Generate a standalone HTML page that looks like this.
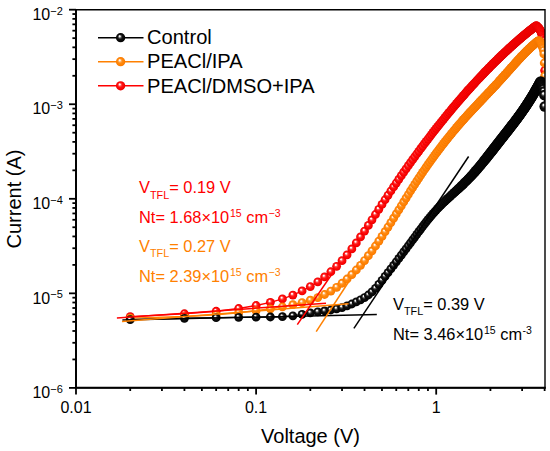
<!DOCTYPE html>
<html><head><meta charset="utf-8"><style>
html,body{margin:0;padding:0;background:#fff;}
body{width:550px;height:451px;overflow:hidden;font-family:"Liberation Sans",sans-serif;}
svg{display:block;}
</style></head><body>
<svg width="550" height="451" viewBox="0 0 550 451" style='font-family:"Liberation Sans",sans-serif'>
<defs>
<radialGradient id="gk" cx="0.5" cy="0.5" r="0.5" fx="0.38" fy="0.32">
 <stop offset="0" stop-color="#ffffff"/><stop offset="0.15" stop-color="#eeeeee"/><stop offset="0.3" stop-color="#606060"/><stop offset="0.52" stop-color="#111111"/><stop offset="1" stop-color="#000"/>
</radialGradient>
<radialGradient id="go" cx="0.5" cy="0.5" r="0.5" fx="0.38" fy="0.32">
 <stop offset="0" stop-color="#ffffff"/><stop offset="0.15" stop-color="#fff2e4"/><stop offset="0.3" stop-color="#ffae5a"/><stop offset="0.52" stop-color="#ff8a12"/><stop offset="0.85" stop-color="#ff8000"/><stop offset="1" stop-color="#f27400"/>
</radialGradient>
<radialGradient id="gr" cx="0.5" cy="0.5" r="0.5" fx="0.38" fy="0.32">
 <stop offset="0" stop-color="#ffffff"/><stop offset="0.15" stop-color="#ffeeee"/><stop offset="0.3" stop-color="#ff5a5a"/><stop offset="0.52" stop-color="#ff1212"/><stop offset="0.85" stop-color="#f80000"/><stop offset="1" stop-color="#e00000"/>
</radialGradient>
<clipPath id="clip"><rect x="76" y="9.7" width="469" height="378.1"/></clipPath>
</defs>
<rect width="550" height="451" fill="#fff"/>
<g clip-path="url(#clip)">
<path d="M130.22,316.59 L184.43,313.75 L216.15,311.27 L238.65,308.49 L256.10,305.51 L270.36,302.35 L282.42,298.88 L292.86,295.08 L302.07,290.96 L310.32,286.57 L317.77,281.89 L324.58,276.94 L330.84,271.74 L336.63,266.32 L342.03,260.68 L347.08,254.87 L351.82,248.92 L356.29,242.92 L360.52,236.96 L364.53,231.10 L368.35,225.39 L371.99,219.85 L375.46,214.50 L378.79,209.36 L381.98,204.45 L385.05,199.75 L388.00,195.27 L390.85,191.00 L393.59,186.92 L396.25,183.02 L398.81,179.27 L401.29,175.68 L403.70,172.23 L406.03,168.91 L408.30,165.71 L410.51,162.62 L412.65,159.65 L414.73,156.77 L416.77,153.99 L418.75,151.30 L420.68,148.69 L422.56,146.17 L424.40,143.72 L426.20,141.34 L427.96,139.03 L429.68,136.79 L431.36,134.60 L433.01,132.48 L434.62,130.42 L436.20,128.40 L437.75,126.44 L439.27,124.53 L440.76,122.66 L442.22,120.84 L443.65,119.06 L445.06,117.33 L446.45,115.63 L447.81,113.97 L449.15,112.35 L450.46,110.77 L451.75,109.21 L453.03,107.69 L454.28,106.21 L455.51,104.75 L456.72,103.32 L457.92,101.93 L459.09,100.55 L460.25,99.21 L461.39,97.89 L462.52,96.60 L463.63,95.33 L464.72,94.08 L465.80,92.86 L466.86,91.66 L467.91,90.48 L468.95,89.32 L469.97,88.19 L470.98,87.07 L471.98,85.97 L472.96,84.89 L473.93,83.82 L474.89,82.78 L475.84,81.75 L476.78,80.74 L477.70,79.74 L478.62,78.76 L479.52,77.80 L480.42,76.85 L481.30,75.91 L482.17,74.99 L483.04,74.09 L483.89,73.19 L484.74,72.31 L485.58,71.44 L486.40,70.59 L487.22,69.75 L488.03,68.92 L488.84,68.10 L489.63,67.29 L490.42,66.49 L491.19,65.71 L491.96,64.93 L492.73,64.17 L493.48,63.41 L494.23,62.67 L494.97,61.94 L495.71,61.21 L496.44,60.49 L497.16,59.79 L497.87,59.09 L498.58,58.40 L499.28,57.72 L499.97,57.05 L500.66,56.39 L501.35,55.73 L502.02,55.09 L502.70,54.45 L503.36,53.82 L504.02,53.19 L504.68,52.58 L505.33,51.97 L505.97,51.36 L506.61,50.77 L507.24,50.18 L507.87,49.60 L508.49,49.02 L509.11,48.46 L509.72,47.89 L510.33,47.34 L510.94,46.79 L511.54,46.24 L512.13,45.71 L512.72,45.17 L513.31,44.65 L513.89,44.13 L514.47,43.61 L515.04,43.10 L515.61,42.60 L516.17,42.10 L516.73,41.60 L517.29,41.11 L517.84,40.63 L518.39,40.15 L518.94,39.68 L519.48,39.21 L520.02,38.74 L520.55,38.29 L521.08,37.83 L521.61,37.38 L522.13,36.94 L522.65,36.50 L523.17,36.06 L523.68,35.63 L524.19,35.20 L524.69,34.78 L525.20,34.36 L525.70,33.95 L526.19,33.54 L526.69,33.14 L527.18,32.74 L527.66,32.35 L528.15,31.96 L528.63,31.57 L529.11,31.19 L529.58,30.81 L530.06,30.44 L530.53,30.07 L530.99,29.71 L531.46,29.35 L531.92,28.99 L532.38,28.64 L532.83,28.29 L533.29,27.95 L533.74,27.61 L534.19,27.27 L534.63,26.94 L535.08,26.61 L535.52,26.29 L535.95,25.97 L536.39,25.66 L536.82,26.17 L537.25,26.69 L537.68,27.20 L538.11,27.53 L538.53,27.87 L538.95,28.20 L539.37,28.85 L539.79,29.50 L540.21,30.25 L540.62,31.00 L541.03,32.00 L541.44,33.00 L541.84,34.25 L542.25,35.50 L542.65,37.00 L543.05,38.50 L543.45,40.50 L543.84,43.50 L544.24,50.00 L544.63,70.50" fill="none" stroke="#f00" stroke-width="1.4"/>
<circle cx="130.22" cy="316.59" r="4.4" fill="url(#gr)"/><circle cx="184.43" cy="313.75" r="4.4" fill="url(#gr)"/><circle cx="216.15" cy="311.27" r="4.4" fill="url(#gr)"/><circle cx="238.65" cy="308.49" r="4.4" fill="url(#gr)"/><circle cx="256.10" cy="305.51" r="4.4" fill="url(#gr)"/><circle cx="270.36" cy="302.35" r="4.4" fill="url(#gr)"/><circle cx="282.42" cy="298.88" r="4.4" fill="url(#gr)"/><circle cx="292.86" cy="295.08" r="4.4" fill="url(#gr)"/><circle cx="302.07" cy="290.96" r="4.4" fill="url(#gr)"/><circle cx="310.32" cy="286.57" r="4.4" fill="url(#gr)"/><circle cx="317.77" cy="281.89" r="4.4" fill="url(#gr)"/><circle cx="324.58" cy="276.94" r="4.4" fill="url(#gr)"/><circle cx="330.84" cy="271.74" r="4.4" fill="url(#gr)"/><circle cx="336.63" cy="266.32" r="4.4" fill="url(#gr)"/><circle cx="342.03" cy="260.68" r="4.4" fill="url(#gr)"/><circle cx="347.08" cy="254.87" r="4.4" fill="url(#gr)"/><circle cx="351.82" cy="248.92" r="4.4" fill="url(#gr)"/><circle cx="356.29" cy="242.92" r="4.4" fill="url(#gr)"/><circle cx="360.52" cy="236.96" r="4.4" fill="url(#gr)"/><circle cx="364.53" cy="231.10" r="4.4" fill="url(#gr)"/><circle cx="368.35" cy="225.39" r="4.4" fill="url(#gr)"/><circle cx="371.99" cy="219.85" r="4.4" fill="url(#gr)"/><circle cx="375.46" cy="214.50" r="4.4" fill="url(#gr)"/><circle cx="378.79" cy="209.36" r="4.4" fill="url(#gr)"/><circle cx="381.98" cy="204.45" r="4.4" fill="url(#gr)"/><circle cx="385.05" cy="199.75" r="4.4" fill="url(#gr)"/><circle cx="388.00" cy="195.27" r="4.4" fill="url(#gr)"/><circle cx="390.85" cy="191.00" r="4.4" fill="url(#gr)"/><circle cx="393.59" cy="186.92" r="4.4" fill="url(#gr)"/><circle cx="396.25" cy="183.02" r="4.4" fill="url(#gr)"/><circle cx="398.81" cy="179.27" r="4.4" fill="url(#gr)"/><circle cx="401.29" cy="175.68" r="4.4" fill="url(#gr)"/><circle cx="403.70" cy="172.23" r="4.4" fill="url(#gr)"/><circle cx="406.03" cy="168.91" r="4.4" fill="url(#gr)"/><circle cx="408.30" cy="165.71" r="4.4" fill="url(#gr)"/><circle cx="410.51" cy="162.62" r="4.4" fill="url(#gr)"/><circle cx="412.65" cy="159.65" r="4.4" fill="url(#gr)"/><circle cx="414.73" cy="156.77" r="4.4" fill="url(#gr)"/><circle cx="416.77" cy="153.99" r="4.4" fill="url(#gr)"/><circle cx="418.75" cy="151.30" r="4.4" fill="url(#gr)"/><circle cx="420.68" cy="148.69" r="4.4" fill="url(#gr)"/><circle cx="422.56" cy="146.17" r="4.4" fill="url(#gr)"/><circle cx="424.40" cy="143.72" r="4.4" fill="url(#gr)"/><circle cx="426.20" cy="141.34" r="4.4" fill="url(#gr)"/><circle cx="427.96" cy="139.03" r="4.4" fill="url(#gr)"/><circle cx="429.68" cy="136.79" r="4.4" fill="url(#gr)"/><circle cx="431.36" cy="134.60" r="4.4" fill="url(#gr)"/><circle cx="433.01" cy="132.48" r="4.4" fill="url(#gr)"/><circle cx="434.62" cy="130.42" r="4.4" fill="url(#gr)"/><circle cx="436.20" cy="128.40" r="4.4" fill="url(#gr)"/><circle cx="437.75" cy="126.44" r="4.4" fill="url(#gr)"/><circle cx="439.27" cy="124.53" r="4.4" fill="url(#gr)"/><circle cx="440.76" cy="122.66" r="4.4" fill="url(#gr)"/><circle cx="442.22" cy="120.84" r="4.4" fill="url(#gr)"/><circle cx="443.65" cy="119.06" r="4.4" fill="url(#gr)"/><circle cx="445.06" cy="117.33" r="4.4" fill="url(#gr)"/><circle cx="446.45" cy="115.63" r="4.4" fill="url(#gr)"/><circle cx="447.81" cy="113.97" r="4.4" fill="url(#gr)"/><circle cx="449.15" cy="112.35" r="4.4" fill="url(#gr)"/><circle cx="450.46" cy="110.77" r="4.4" fill="url(#gr)"/><circle cx="451.75" cy="109.21" r="4.4" fill="url(#gr)"/><circle cx="453.03" cy="107.69" r="4.4" fill="url(#gr)"/><circle cx="454.28" cy="106.21" r="4.4" fill="url(#gr)"/><circle cx="455.51" cy="104.75" r="4.4" fill="url(#gr)"/><circle cx="456.72" cy="103.32" r="4.4" fill="url(#gr)"/><circle cx="457.92" cy="101.93" r="4.4" fill="url(#gr)"/><circle cx="459.09" cy="100.55" r="4.4" fill="url(#gr)"/><circle cx="460.25" cy="99.21" r="4.4" fill="url(#gr)"/><circle cx="461.39" cy="97.89" r="4.4" fill="url(#gr)"/><circle cx="462.52" cy="96.60" r="4.4" fill="url(#gr)"/><circle cx="463.63" cy="95.33" r="4.4" fill="url(#gr)"/><circle cx="464.72" cy="94.08" r="4.4" fill="url(#gr)"/><circle cx="465.80" cy="92.86" r="4.4" fill="url(#gr)"/><circle cx="466.86" cy="91.66" r="4.4" fill="url(#gr)"/><circle cx="467.91" cy="90.48" r="4.4" fill="url(#gr)"/><circle cx="468.95" cy="89.32" r="4.4" fill="url(#gr)"/><circle cx="469.97" cy="88.19" r="4.4" fill="url(#gr)"/><circle cx="470.98" cy="87.07" r="4.4" fill="url(#gr)"/><circle cx="471.98" cy="85.97" r="4.4" fill="url(#gr)"/><circle cx="472.96" cy="84.89" r="4.4" fill="url(#gr)"/><circle cx="473.93" cy="83.82" r="4.4" fill="url(#gr)"/><circle cx="474.89" cy="82.78" r="4.4" fill="url(#gr)"/><circle cx="475.84" cy="81.75" r="4.4" fill="url(#gr)"/><circle cx="476.78" cy="80.74" r="4.4" fill="url(#gr)"/><circle cx="477.70" cy="79.74" r="4.4" fill="url(#gr)"/><circle cx="478.62" cy="78.76" r="4.4" fill="url(#gr)"/><circle cx="479.52" cy="77.80" r="4.4" fill="url(#gr)"/><circle cx="480.42" cy="76.85" r="4.4" fill="url(#gr)"/><circle cx="481.30" cy="75.91" r="4.4" fill="url(#gr)"/><circle cx="482.17" cy="74.99" r="4.4" fill="url(#gr)"/><circle cx="483.04" cy="74.09" r="4.4" fill="url(#gr)"/><circle cx="483.89" cy="73.19" r="4.4" fill="url(#gr)"/><circle cx="484.74" cy="72.31" r="4.4" fill="url(#gr)"/><circle cx="485.58" cy="71.44" r="4.4" fill="url(#gr)"/><circle cx="486.40" cy="70.59" r="4.4" fill="url(#gr)"/><circle cx="487.22" cy="69.75" r="4.4" fill="url(#gr)"/><circle cx="488.03" cy="68.92" r="4.4" fill="url(#gr)"/><circle cx="488.84" cy="68.10" r="4.4" fill="url(#gr)"/><circle cx="489.63" cy="67.29" r="4.4" fill="url(#gr)"/><circle cx="490.42" cy="66.49" r="4.4" fill="url(#gr)"/><circle cx="491.19" cy="65.71" r="4.4" fill="url(#gr)"/><circle cx="491.96" cy="64.93" r="4.4" fill="url(#gr)"/><circle cx="492.73" cy="64.17" r="4.4" fill="url(#gr)"/><circle cx="493.48" cy="63.41" r="4.4" fill="url(#gr)"/><circle cx="494.23" cy="62.67" r="4.4" fill="url(#gr)"/><circle cx="494.97" cy="61.94" r="4.4" fill="url(#gr)"/><circle cx="495.71" cy="61.21" r="4.4" fill="url(#gr)"/><circle cx="496.44" cy="60.49" r="4.4" fill="url(#gr)"/><circle cx="497.16" cy="59.79" r="4.4" fill="url(#gr)"/><circle cx="497.87" cy="59.09" r="4.4" fill="url(#gr)"/><circle cx="498.58" cy="58.40" r="4.4" fill="url(#gr)"/><circle cx="499.28" cy="57.72" r="4.4" fill="url(#gr)"/><circle cx="499.97" cy="57.05" r="4.4" fill="url(#gr)"/><circle cx="500.66" cy="56.39" r="4.4" fill="url(#gr)"/><circle cx="501.35" cy="55.73" r="4.4" fill="url(#gr)"/><circle cx="502.02" cy="55.09" r="4.4" fill="url(#gr)"/><circle cx="502.70" cy="54.45" r="4.4" fill="url(#gr)"/><circle cx="503.36" cy="53.82" r="4.4" fill="url(#gr)"/><circle cx="504.02" cy="53.19" r="4.4" fill="url(#gr)"/><circle cx="504.68" cy="52.58" r="4.4" fill="url(#gr)"/><circle cx="505.33" cy="51.97" r="4.4" fill="url(#gr)"/><circle cx="505.97" cy="51.36" r="4.4" fill="url(#gr)"/><circle cx="506.61" cy="50.77" r="4.4" fill="url(#gr)"/><circle cx="507.24" cy="50.18" r="4.4" fill="url(#gr)"/><circle cx="507.87" cy="49.60" r="4.4" fill="url(#gr)"/><circle cx="508.49" cy="49.02" r="4.4" fill="url(#gr)"/><circle cx="509.11" cy="48.46" r="4.4" fill="url(#gr)"/><circle cx="509.72" cy="47.89" r="4.4" fill="url(#gr)"/><circle cx="510.33" cy="47.34" r="4.4" fill="url(#gr)"/><circle cx="510.94" cy="46.79" r="4.4" fill="url(#gr)"/><circle cx="511.54" cy="46.24" r="4.4" fill="url(#gr)"/><circle cx="512.13" cy="45.71" r="4.4" fill="url(#gr)"/><circle cx="512.72" cy="45.17" r="4.4" fill="url(#gr)"/><circle cx="513.31" cy="44.65" r="4.4" fill="url(#gr)"/><circle cx="513.89" cy="44.13" r="4.4" fill="url(#gr)"/><circle cx="514.47" cy="43.61" r="4.4" fill="url(#gr)"/><circle cx="515.04" cy="43.10" r="4.4" fill="url(#gr)"/><circle cx="515.61" cy="42.60" r="4.4" fill="url(#gr)"/><circle cx="516.17" cy="42.10" r="4.4" fill="url(#gr)"/><circle cx="516.73" cy="41.60" r="4.4" fill="url(#gr)"/><circle cx="517.29" cy="41.11" r="4.4" fill="url(#gr)"/><circle cx="517.84" cy="40.63" r="4.4" fill="url(#gr)"/><circle cx="518.39" cy="40.15" r="4.4" fill="url(#gr)"/><circle cx="518.94" cy="39.68" r="4.4" fill="url(#gr)"/><circle cx="519.48" cy="39.21" r="4.4" fill="url(#gr)"/><circle cx="520.02" cy="38.74" r="4.4" fill="url(#gr)"/><circle cx="520.55" cy="38.29" r="4.4" fill="url(#gr)"/><circle cx="521.08" cy="37.83" r="4.4" fill="url(#gr)"/><circle cx="521.61" cy="37.38" r="4.4" fill="url(#gr)"/><circle cx="522.13" cy="36.94" r="4.4" fill="url(#gr)"/><circle cx="522.65" cy="36.50" r="4.4" fill="url(#gr)"/><circle cx="523.17" cy="36.06" r="4.4" fill="url(#gr)"/><circle cx="523.68" cy="35.63" r="4.4" fill="url(#gr)"/><circle cx="524.19" cy="35.20" r="4.4" fill="url(#gr)"/><circle cx="524.69" cy="34.78" r="4.4" fill="url(#gr)"/><circle cx="525.20" cy="34.36" r="4.4" fill="url(#gr)"/><circle cx="525.70" cy="33.95" r="4.4" fill="url(#gr)"/><circle cx="526.19" cy="33.54" r="4.4" fill="url(#gr)"/><circle cx="526.69" cy="33.14" r="4.4" fill="url(#gr)"/><circle cx="527.18" cy="32.74" r="4.4" fill="url(#gr)"/><circle cx="527.66" cy="32.35" r="4.4" fill="url(#gr)"/><circle cx="528.15" cy="31.96" r="4.4" fill="url(#gr)"/><circle cx="528.63" cy="31.57" r="4.4" fill="url(#gr)"/><circle cx="529.11" cy="31.19" r="4.4" fill="url(#gr)"/><circle cx="529.58" cy="30.81" r="4.4" fill="url(#gr)"/><circle cx="530.06" cy="30.44" r="4.4" fill="url(#gr)"/><circle cx="530.53" cy="30.07" r="4.4" fill="url(#gr)"/><circle cx="530.99" cy="29.71" r="4.4" fill="url(#gr)"/><circle cx="531.46" cy="29.35" r="4.4" fill="url(#gr)"/><circle cx="531.92" cy="28.99" r="4.4" fill="url(#gr)"/><circle cx="532.38" cy="28.64" r="4.4" fill="url(#gr)"/><circle cx="532.83" cy="28.29" r="4.4" fill="url(#gr)"/><circle cx="533.29" cy="27.95" r="4.4" fill="url(#gr)"/><circle cx="533.74" cy="27.61" r="4.4" fill="url(#gr)"/><circle cx="534.19" cy="27.27" r="4.4" fill="url(#gr)"/><circle cx="534.63" cy="26.94" r="4.4" fill="url(#gr)"/><circle cx="535.08" cy="26.61" r="4.4" fill="url(#gr)"/><circle cx="535.52" cy="26.29" r="4.4" fill="url(#gr)"/><circle cx="535.95" cy="25.97" r="4.4" fill="url(#gr)"/><circle cx="536.39" cy="25.66" r="4.4" fill="url(#gr)"/><circle cx="536.82" cy="26.17" r="4.4" fill="url(#gr)"/><circle cx="537.25" cy="26.69" r="4.4" fill="url(#gr)"/><circle cx="537.68" cy="27.20" r="4.4" fill="url(#gr)"/><circle cx="538.11" cy="27.53" r="4.4" fill="url(#gr)"/><circle cx="538.53" cy="27.87" r="4.4" fill="url(#gr)"/><circle cx="538.95" cy="28.20" r="4.4" fill="url(#gr)"/><circle cx="539.37" cy="28.85" r="4.4" fill="url(#gr)"/><circle cx="539.79" cy="29.50" r="4.4" fill="url(#gr)"/><circle cx="540.21" cy="30.25" r="4.4" fill="url(#gr)"/><circle cx="540.62" cy="31.00" r="4.4" fill="url(#gr)"/><circle cx="541.03" cy="32.00" r="4.4" fill="url(#gr)"/><circle cx="541.44" cy="33.00" r="4.4" fill="url(#gr)"/><circle cx="541.84" cy="34.25" r="4.4" fill="url(#gr)"/><circle cx="542.25" cy="35.50" r="4.4" fill="url(#gr)"/><circle cx="542.65" cy="37.00" r="4.4" fill="url(#gr)"/><circle cx="543.05" cy="38.50" r="4.4" fill="url(#gr)"/><circle cx="543.45" cy="40.50" r="4.4" fill="url(#gr)"/><circle cx="543.84" cy="43.50" r="4.4" fill="url(#gr)"/><circle cx="544.24" cy="50.00" r="4.4" fill="url(#gr)"/><circle cx="544.63" cy="70.50" r="4.4" fill="url(#gr)"/>

<path d="M130.22,318.17 L184.43,316.54 L216.15,314.74 L238.65,312.80 L256.10,310.80 L270.36,308.79 L282.42,306.79 L292.86,304.71 L302.07,302.54 L310.32,300.22 L317.77,297.57 L324.58,294.49 L330.84,291.04 L336.63,287.28 L342.03,283.25 L347.08,279.00 L351.82,274.57 L356.29,270.00 L360.52,265.32 L364.53,260.55 L368.35,255.73 L371.99,250.87 L375.46,246.01 L378.79,241.18 L381.98,236.41 L385.05,231.72 L388.00,227.11 L390.85,222.62 L393.59,218.23 L396.25,213.96 L398.81,209.82 L401.29,205.80 L403.70,201.90 L406.03,198.14 L408.30,194.50 L410.51,190.98 L412.65,187.60 L414.73,184.33 L416.77,181.19 L418.75,178.16 L420.68,175.25 L422.56,172.45 L424.40,169.75 L426.20,167.14 L427.96,164.62 L429.68,162.18 L431.36,159.83 L433.01,157.55 L434.62,155.34 L436.20,153.20 L437.75,151.12 L439.27,149.10 L440.76,147.15 L442.22,145.25 L443.65,143.40 L445.06,141.60 L446.45,139.85 L447.81,138.15 L449.15,136.49 L450.46,134.87 L451.75,133.29 L453.03,131.75 L454.28,130.25 L455.51,128.79 L456.72,127.36 L457.92,125.96 L459.09,124.59 L460.25,123.26 L461.39,121.95 L462.52,120.67 L463.63,119.42 L464.72,118.20 L465.80,117.00 L466.86,115.82 L467.91,114.66 L468.95,113.53 L469.97,112.42 L470.98,111.33 L471.98,110.25 L472.96,109.19 L473.93,108.15 L474.89,107.13 L475.84,106.12 L476.78,105.12 L477.70,104.14 L478.62,103.18 L479.52,102.22 L480.42,101.28 L481.30,100.35 L482.17,99.43 L483.04,98.52 L483.89,97.62 L484.74,96.73 L485.58,95.85 L486.40,94.98 L487.22,94.11 L488.03,93.26 L488.84,92.41 L489.63,91.57 L490.42,90.74 L491.19,89.91 L491.96,89.09 L492.73,88.28 L493.48,87.47 L494.23,86.67 L494.97,85.87 L495.71,85.08 L496.44,84.30 L497.16,83.52 L497.87,82.74 L498.58,81.97 L499.28,81.20 L499.97,80.44 L500.66,79.68 L501.35,78.93 L502.02,78.17 L502.70,77.43 L503.36,76.68 L504.02,75.95 L504.68,75.21 L505.33,74.48 L505.97,73.76 L506.61,73.04 L507.24,72.32 L507.87,71.61 L508.49,70.91 L509.11,70.21 L509.72,69.52 L510.33,68.83 L510.94,68.15 L511.54,67.48 L512.13,66.81 L512.72,66.15 L513.31,65.49 L513.89,64.84 L514.47,64.20 L515.04,63.56 L515.61,62.93 L516.17,62.30 L516.73,61.69 L517.29,61.07 L517.84,60.47 L518.39,59.87 L518.94,59.28 L519.48,58.69 L520.02,58.11 L520.55,57.54 L521.08,56.98 L521.61,56.42 L522.13,55.87 L522.65,55.32 L523.17,54.78 L523.68,54.25 L524.19,53.73 L524.69,53.21 L525.20,52.70 L525.70,52.19 L526.19,51.69 L526.69,51.20 L527.18,50.72 L527.66,50.24 L528.15,49.77 L528.63,49.30 L529.11,48.84 L529.58,48.39 L530.06,47.95 L530.53,47.51 L530.99,47.08 L531.46,46.65 L531.92,46.23 L532.38,45.82 L532.83,45.42 L533.29,45.02 L533.74,44.63 L534.19,44.24 L534.63,43.86 L535.08,43.49 L535.52,43.12 L535.95,42.76 L536.39,42.40 L536.82,42.06 L537.25,41.71 L537.68,41.38 L538.11,41.05 L538.53,40.73 L538.95,40.98 L539.37,41.24 L539.79,41.50 L540.21,42.00 L540.62,42.50 L541.03,43.25 L541.44,44.00 L541.84,45.00 L542.25,46.00 L542.65,47.25 L543.05,48.50 L543.45,50.50 L543.84,54.00 L544.24,63.00 L544.63,76.00" fill="none" stroke="#ff8000" stroke-width="1.4"/>
<circle cx="130.22" cy="318.17" r="4.4" fill="url(#go)"/><circle cx="184.43" cy="316.54" r="4.4" fill="url(#go)"/><circle cx="216.15" cy="314.74" r="4.4" fill="url(#go)"/><circle cx="238.65" cy="312.80" r="4.4" fill="url(#go)"/><circle cx="256.10" cy="310.80" r="4.4" fill="url(#go)"/><circle cx="270.36" cy="308.79" r="4.4" fill="url(#go)"/><circle cx="282.42" cy="306.79" r="4.4" fill="url(#go)"/><circle cx="292.86" cy="304.71" r="4.4" fill="url(#go)"/><circle cx="302.07" cy="302.54" r="4.4" fill="url(#go)"/><circle cx="310.32" cy="300.22" r="4.4" fill="url(#go)"/><circle cx="317.77" cy="297.57" r="4.4" fill="url(#go)"/><circle cx="324.58" cy="294.49" r="4.4" fill="url(#go)"/><circle cx="330.84" cy="291.04" r="4.4" fill="url(#go)"/><circle cx="336.63" cy="287.28" r="4.4" fill="url(#go)"/><circle cx="342.03" cy="283.25" r="4.4" fill="url(#go)"/><circle cx="347.08" cy="279.00" r="4.4" fill="url(#go)"/><circle cx="351.82" cy="274.57" r="4.4" fill="url(#go)"/><circle cx="356.29" cy="270.00" r="4.4" fill="url(#go)"/><circle cx="360.52" cy="265.32" r="4.4" fill="url(#go)"/><circle cx="364.53" cy="260.55" r="4.4" fill="url(#go)"/><circle cx="368.35" cy="255.73" r="4.4" fill="url(#go)"/><circle cx="371.99" cy="250.87" r="4.4" fill="url(#go)"/><circle cx="375.46" cy="246.01" r="4.4" fill="url(#go)"/><circle cx="378.79" cy="241.18" r="4.4" fill="url(#go)"/><circle cx="381.98" cy="236.41" r="4.4" fill="url(#go)"/><circle cx="385.05" cy="231.72" r="4.4" fill="url(#go)"/><circle cx="388.00" cy="227.11" r="4.4" fill="url(#go)"/><circle cx="390.85" cy="222.62" r="4.4" fill="url(#go)"/><circle cx="393.59" cy="218.23" r="4.4" fill="url(#go)"/><circle cx="396.25" cy="213.96" r="4.4" fill="url(#go)"/><circle cx="398.81" cy="209.82" r="4.4" fill="url(#go)"/><circle cx="401.29" cy="205.80" r="4.4" fill="url(#go)"/><circle cx="403.70" cy="201.90" r="4.4" fill="url(#go)"/><circle cx="406.03" cy="198.14" r="4.4" fill="url(#go)"/><circle cx="408.30" cy="194.50" r="4.4" fill="url(#go)"/><circle cx="410.51" cy="190.98" r="4.4" fill="url(#go)"/><circle cx="412.65" cy="187.60" r="4.4" fill="url(#go)"/><circle cx="414.73" cy="184.33" r="4.4" fill="url(#go)"/><circle cx="416.77" cy="181.19" r="4.4" fill="url(#go)"/><circle cx="418.75" cy="178.16" r="4.4" fill="url(#go)"/><circle cx="420.68" cy="175.25" r="4.4" fill="url(#go)"/><circle cx="422.56" cy="172.45" r="4.4" fill="url(#go)"/><circle cx="424.40" cy="169.75" r="4.4" fill="url(#go)"/><circle cx="426.20" cy="167.14" r="4.4" fill="url(#go)"/><circle cx="427.96" cy="164.62" r="4.4" fill="url(#go)"/><circle cx="429.68" cy="162.18" r="4.4" fill="url(#go)"/><circle cx="431.36" cy="159.83" r="4.4" fill="url(#go)"/><circle cx="433.01" cy="157.55" r="4.4" fill="url(#go)"/><circle cx="434.62" cy="155.34" r="4.4" fill="url(#go)"/><circle cx="436.20" cy="153.20" r="4.4" fill="url(#go)"/><circle cx="437.75" cy="151.12" r="4.4" fill="url(#go)"/><circle cx="439.27" cy="149.10" r="4.4" fill="url(#go)"/><circle cx="440.76" cy="147.15" r="4.4" fill="url(#go)"/><circle cx="442.22" cy="145.25" r="4.4" fill="url(#go)"/><circle cx="443.65" cy="143.40" r="4.4" fill="url(#go)"/><circle cx="445.06" cy="141.60" r="4.4" fill="url(#go)"/><circle cx="446.45" cy="139.85" r="4.4" fill="url(#go)"/><circle cx="447.81" cy="138.15" r="4.4" fill="url(#go)"/><circle cx="449.15" cy="136.49" r="4.4" fill="url(#go)"/><circle cx="450.46" cy="134.87" r="4.4" fill="url(#go)"/><circle cx="451.75" cy="133.29" r="4.4" fill="url(#go)"/><circle cx="453.03" cy="131.75" r="4.4" fill="url(#go)"/><circle cx="454.28" cy="130.25" r="4.4" fill="url(#go)"/><circle cx="455.51" cy="128.79" r="4.4" fill="url(#go)"/><circle cx="456.72" cy="127.36" r="4.4" fill="url(#go)"/><circle cx="457.92" cy="125.96" r="4.4" fill="url(#go)"/><circle cx="459.09" cy="124.59" r="4.4" fill="url(#go)"/><circle cx="460.25" cy="123.26" r="4.4" fill="url(#go)"/><circle cx="461.39" cy="121.95" r="4.4" fill="url(#go)"/><circle cx="462.52" cy="120.67" r="4.4" fill="url(#go)"/><circle cx="463.63" cy="119.42" r="4.4" fill="url(#go)"/><circle cx="464.72" cy="118.20" r="4.4" fill="url(#go)"/><circle cx="465.80" cy="117.00" r="4.4" fill="url(#go)"/><circle cx="466.86" cy="115.82" r="4.4" fill="url(#go)"/><circle cx="467.91" cy="114.66" r="4.4" fill="url(#go)"/><circle cx="468.95" cy="113.53" r="4.4" fill="url(#go)"/><circle cx="469.97" cy="112.42" r="4.4" fill="url(#go)"/><circle cx="470.98" cy="111.33" r="4.4" fill="url(#go)"/><circle cx="471.98" cy="110.25" r="4.4" fill="url(#go)"/><circle cx="472.96" cy="109.19" r="4.4" fill="url(#go)"/><circle cx="473.93" cy="108.15" r="4.4" fill="url(#go)"/><circle cx="474.89" cy="107.13" r="4.4" fill="url(#go)"/><circle cx="475.84" cy="106.12" r="4.4" fill="url(#go)"/><circle cx="476.78" cy="105.12" r="4.4" fill="url(#go)"/><circle cx="477.70" cy="104.14" r="4.4" fill="url(#go)"/><circle cx="478.62" cy="103.18" r="4.4" fill="url(#go)"/><circle cx="479.52" cy="102.22" r="4.4" fill="url(#go)"/><circle cx="480.42" cy="101.28" r="4.4" fill="url(#go)"/><circle cx="481.30" cy="100.35" r="4.4" fill="url(#go)"/><circle cx="482.17" cy="99.43" r="4.4" fill="url(#go)"/><circle cx="483.04" cy="98.52" r="4.4" fill="url(#go)"/><circle cx="483.89" cy="97.62" r="4.4" fill="url(#go)"/><circle cx="484.74" cy="96.73" r="4.4" fill="url(#go)"/><circle cx="485.58" cy="95.85" r="4.4" fill="url(#go)"/><circle cx="486.40" cy="94.98" r="4.4" fill="url(#go)"/><circle cx="487.22" cy="94.11" r="4.4" fill="url(#go)"/><circle cx="488.03" cy="93.26" r="4.4" fill="url(#go)"/><circle cx="488.84" cy="92.41" r="4.4" fill="url(#go)"/><circle cx="489.63" cy="91.57" r="4.4" fill="url(#go)"/><circle cx="490.42" cy="90.74" r="4.4" fill="url(#go)"/><circle cx="491.19" cy="89.91" r="4.4" fill="url(#go)"/><circle cx="491.96" cy="89.09" r="4.4" fill="url(#go)"/><circle cx="492.73" cy="88.28" r="4.4" fill="url(#go)"/><circle cx="493.48" cy="87.47" r="4.4" fill="url(#go)"/><circle cx="494.23" cy="86.67" r="4.4" fill="url(#go)"/><circle cx="494.97" cy="85.87" r="4.4" fill="url(#go)"/><circle cx="495.71" cy="85.08" r="4.4" fill="url(#go)"/><circle cx="496.44" cy="84.30" r="4.4" fill="url(#go)"/><circle cx="497.16" cy="83.52" r="4.4" fill="url(#go)"/><circle cx="497.87" cy="82.74" r="4.4" fill="url(#go)"/><circle cx="498.58" cy="81.97" r="4.4" fill="url(#go)"/><circle cx="499.28" cy="81.20" r="4.4" fill="url(#go)"/><circle cx="499.97" cy="80.44" r="4.4" fill="url(#go)"/><circle cx="500.66" cy="79.68" r="4.4" fill="url(#go)"/><circle cx="501.35" cy="78.93" r="4.4" fill="url(#go)"/><circle cx="502.02" cy="78.17" r="4.4" fill="url(#go)"/><circle cx="502.70" cy="77.43" r="4.4" fill="url(#go)"/><circle cx="503.36" cy="76.68" r="4.4" fill="url(#go)"/><circle cx="504.02" cy="75.95" r="4.4" fill="url(#go)"/><circle cx="504.68" cy="75.21" r="4.4" fill="url(#go)"/><circle cx="505.33" cy="74.48" r="4.4" fill="url(#go)"/><circle cx="505.97" cy="73.76" r="4.4" fill="url(#go)"/><circle cx="506.61" cy="73.04" r="4.4" fill="url(#go)"/><circle cx="507.24" cy="72.32" r="4.4" fill="url(#go)"/><circle cx="507.87" cy="71.61" r="4.4" fill="url(#go)"/><circle cx="508.49" cy="70.91" r="4.4" fill="url(#go)"/><circle cx="509.11" cy="70.21" r="4.4" fill="url(#go)"/><circle cx="509.72" cy="69.52" r="4.4" fill="url(#go)"/><circle cx="510.33" cy="68.83" r="4.4" fill="url(#go)"/><circle cx="510.94" cy="68.15" r="4.4" fill="url(#go)"/><circle cx="511.54" cy="67.48" r="4.4" fill="url(#go)"/><circle cx="512.13" cy="66.81" r="4.4" fill="url(#go)"/><circle cx="512.72" cy="66.15" r="4.4" fill="url(#go)"/><circle cx="513.31" cy="65.49" r="4.4" fill="url(#go)"/><circle cx="513.89" cy="64.84" r="4.4" fill="url(#go)"/><circle cx="514.47" cy="64.20" r="4.4" fill="url(#go)"/><circle cx="515.04" cy="63.56" r="4.4" fill="url(#go)"/><circle cx="515.61" cy="62.93" r="4.4" fill="url(#go)"/><circle cx="516.17" cy="62.30" r="4.4" fill="url(#go)"/><circle cx="516.73" cy="61.69" r="4.4" fill="url(#go)"/><circle cx="517.29" cy="61.07" r="4.4" fill="url(#go)"/><circle cx="517.84" cy="60.47" r="4.4" fill="url(#go)"/><circle cx="518.39" cy="59.87" r="4.4" fill="url(#go)"/><circle cx="518.94" cy="59.28" r="4.4" fill="url(#go)"/><circle cx="519.48" cy="58.69" r="4.4" fill="url(#go)"/><circle cx="520.02" cy="58.11" r="4.4" fill="url(#go)"/><circle cx="520.55" cy="57.54" r="4.4" fill="url(#go)"/><circle cx="521.08" cy="56.98" r="4.4" fill="url(#go)"/><circle cx="521.61" cy="56.42" r="4.4" fill="url(#go)"/><circle cx="522.13" cy="55.87" r="4.4" fill="url(#go)"/><circle cx="522.65" cy="55.32" r="4.4" fill="url(#go)"/><circle cx="523.17" cy="54.78" r="4.4" fill="url(#go)"/><circle cx="523.68" cy="54.25" r="4.4" fill="url(#go)"/><circle cx="524.19" cy="53.73" r="4.4" fill="url(#go)"/><circle cx="524.69" cy="53.21" r="4.4" fill="url(#go)"/><circle cx="525.20" cy="52.70" r="4.4" fill="url(#go)"/><circle cx="525.70" cy="52.19" r="4.4" fill="url(#go)"/><circle cx="526.19" cy="51.69" r="4.4" fill="url(#go)"/><circle cx="526.69" cy="51.20" r="4.4" fill="url(#go)"/><circle cx="527.18" cy="50.72" r="4.4" fill="url(#go)"/><circle cx="527.66" cy="50.24" r="4.4" fill="url(#go)"/><circle cx="528.15" cy="49.77" r="4.4" fill="url(#go)"/><circle cx="528.63" cy="49.30" r="4.4" fill="url(#go)"/><circle cx="529.11" cy="48.84" r="4.4" fill="url(#go)"/><circle cx="529.58" cy="48.39" r="4.4" fill="url(#go)"/><circle cx="530.06" cy="47.95" r="4.4" fill="url(#go)"/><circle cx="530.53" cy="47.51" r="4.4" fill="url(#go)"/><circle cx="530.99" cy="47.08" r="4.4" fill="url(#go)"/><circle cx="531.46" cy="46.65" r="4.4" fill="url(#go)"/><circle cx="531.92" cy="46.23" r="4.4" fill="url(#go)"/><circle cx="532.38" cy="45.82" r="4.4" fill="url(#go)"/><circle cx="532.83" cy="45.42" r="4.4" fill="url(#go)"/><circle cx="533.29" cy="45.02" r="4.4" fill="url(#go)"/><circle cx="533.74" cy="44.63" r="4.4" fill="url(#go)"/><circle cx="534.19" cy="44.24" r="4.4" fill="url(#go)"/><circle cx="534.63" cy="43.86" r="4.4" fill="url(#go)"/><circle cx="535.08" cy="43.49" r="4.4" fill="url(#go)"/><circle cx="535.52" cy="43.12" r="4.4" fill="url(#go)"/><circle cx="535.95" cy="42.76" r="4.4" fill="url(#go)"/><circle cx="536.39" cy="42.40" r="4.4" fill="url(#go)"/><circle cx="536.82" cy="42.06" r="4.4" fill="url(#go)"/><circle cx="537.25" cy="41.71" r="4.4" fill="url(#go)"/><circle cx="537.68" cy="41.38" r="4.4" fill="url(#go)"/><circle cx="538.11" cy="41.05" r="4.4" fill="url(#go)"/><circle cx="538.53" cy="40.73" r="4.4" fill="url(#go)"/><circle cx="538.95" cy="40.98" r="4.4" fill="url(#go)"/><circle cx="539.37" cy="41.24" r="4.4" fill="url(#go)"/><circle cx="539.79" cy="41.50" r="4.4" fill="url(#go)"/><circle cx="540.21" cy="42.00" r="4.4" fill="url(#go)"/><circle cx="540.62" cy="42.50" r="4.4" fill="url(#go)"/><circle cx="541.03" cy="43.25" r="4.4" fill="url(#go)"/><circle cx="541.44" cy="44.00" r="4.4" fill="url(#go)"/><circle cx="541.84" cy="45.00" r="4.4" fill="url(#go)"/><circle cx="542.25" cy="46.00" r="4.4" fill="url(#go)"/><circle cx="542.65" cy="47.25" r="4.4" fill="url(#go)"/><circle cx="543.05" cy="48.50" r="4.4" fill="url(#go)"/><circle cx="543.45" cy="50.50" r="4.4" fill="url(#go)"/><circle cx="543.84" cy="54.00" r="4.4" fill="url(#go)"/><circle cx="544.24" cy="63.00" r="4.4" fill="url(#go)"/><circle cx="544.63" cy="76.00" r="4.4" fill="url(#go)"/>

<path d="M130.22,319.63 L184.43,318.28 L216.15,317.70 L238.65,317.36 L256.10,317.14 L270.36,316.98 L282.42,316.72 L292.86,315.85 L302.07,314.33 L310.32,312.85 L317.77,311.79 L324.58,310.92 L330.84,310.01 L336.63,308.91 L342.03,307.54 L347.08,305.88 L351.82,303.99 L356.29,301.95 L360.52,299.81 L364.53,297.55 L368.35,294.99 L371.99,291.95 L375.46,288.34 L378.79,284.39 L381.98,280.38 L385.05,276.46 L388.00,272.65 L390.85,268.96 L393.59,265.36 L396.25,261.87 L398.81,258.47 L401.29,255.16 L403.70,251.94 L406.03,248.81 L408.30,245.76 L410.51,242.79 L412.65,239.90 L414.73,237.08 L416.77,234.34 L418.75,231.68 L420.68,229.11 L422.56,226.62 L424.40,224.22 L426.20,221.92 L427.96,219.71 L429.68,217.59 L431.36,215.56 L433.01,213.63 L434.62,211.79 L436.20,210.05 L437.75,208.38 L439.27,206.80 L440.76,205.27 L442.22,203.81 L443.65,202.41 L445.06,201.05 L446.45,199.73 L447.81,198.46 L449.15,197.22 L450.46,196.00 L451.75,194.82 L453.03,193.66 L454.28,192.51 L455.51,191.39 L456.72,190.27 L457.92,189.17 L459.09,188.09 L460.25,187.00 L461.39,185.93 L462.52,184.86 L463.63,183.79 L464.72,182.72 L465.80,181.65 L466.86,180.58 L467.91,179.51 L468.95,178.44 L469.97,177.36 L470.98,176.27 L471.98,175.19 L472.96,174.10 L473.93,173.01 L474.89,171.92 L475.84,170.83 L476.78,169.75 L477.70,168.66 L478.62,167.58 L479.52,166.50 L480.42,165.42 L481.30,164.35 L482.17,163.28 L483.04,162.22 L483.89,161.16 L484.74,160.11 L485.58,159.07 L486.40,158.03 L487.22,157.00 L488.03,155.97 L488.84,154.95 L489.63,153.94 L490.42,152.94 L491.19,151.94 L491.96,150.96 L492.73,149.98 L493.48,149.01 L494.23,148.05 L494.97,147.09 L495.71,146.15 L496.44,145.21 L497.16,144.29 L497.87,143.37 L498.58,142.46 L499.28,141.56 L499.97,140.67 L500.66,139.79 L501.35,138.92 L502.02,138.06 L502.70,137.20 L503.36,136.36 L504.02,135.52 L504.68,134.69 L505.33,133.86 L505.97,133.05 L506.61,132.23 L507.24,131.43 L507.87,130.63 L508.49,129.83 L509.11,129.04 L509.72,128.26 L510.33,127.47 L510.94,126.69 L511.54,125.92 L512.13,125.15 L512.72,124.38 L513.31,123.61 L513.89,122.85 L514.47,122.09 L515.04,121.33 L515.61,120.58 L516.17,119.82 L516.73,119.07 L517.29,118.32 L517.84,117.57 L518.39,116.82 L518.94,116.08 L519.48,115.33 L520.02,114.58 L520.55,113.84 L521.08,113.09 L521.61,112.35 L522.13,111.61 L522.65,110.86 L523.17,110.12 L523.68,109.38 L524.19,108.63 L524.69,107.89 L525.20,107.14 L525.70,106.40 L526.19,105.65 L526.69,104.91 L527.18,104.16 L527.66,103.41 L528.15,102.67 L528.63,101.92 L529.11,101.17 L529.58,100.41 L530.06,99.66 L530.53,98.91 L530.99,98.15 L531.46,97.40 L531.92,96.64 L532.38,95.88 L532.83,95.12 L533.29,94.36 L533.74,93.60 L534.19,92.83 L534.63,92.07 L535.08,91.30 L535.52,90.53 L535.95,89.76 L536.39,88.99 L536.82,88.21 L537.25,87.44 L537.68,86.66 L538.11,85.88 L538.53,85.10 L538.95,84.31 L539.37,83.53 L539.79,82.74 L540.21,82.12 L540.62,81.50 L541.03,82.25 L541.44,83.00 L541.84,84.00 L542.25,85.00 L542.65,86.25 L543.05,87.50 L543.45,89.00 L543.84,91.50 L544.24,95.00 L544.63,106.50" fill="none" stroke="#000" stroke-width="1.4"/>
<circle cx="130.22" cy="319.63" r="4.4" fill="url(#gk)"/><circle cx="184.43" cy="318.28" r="4.4" fill="url(#gk)"/><circle cx="216.15" cy="317.70" r="4.4" fill="url(#gk)"/><circle cx="238.65" cy="317.36" r="4.4" fill="url(#gk)"/><circle cx="256.10" cy="317.14" r="4.4" fill="url(#gk)"/><circle cx="270.36" cy="316.98" r="4.4" fill="url(#gk)"/><circle cx="282.42" cy="316.72" r="4.4" fill="url(#gk)"/><circle cx="292.86" cy="315.85" r="4.4" fill="url(#gk)"/><circle cx="302.07" cy="314.33" r="4.4" fill="url(#gk)"/><circle cx="310.32" cy="312.85" r="4.4" fill="url(#gk)"/><circle cx="317.77" cy="311.79" r="4.4" fill="url(#gk)"/><circle cx="324.58" cy="310.92" r="4.4" fill="url(#gk)"/><circle cx="330.84" cy="310.01" r="4.4" fill="url(#gk)"/><circle cx="336.63" cy="308.91" r="4.4" fill="url(#gk)"/><circle cx="342.03" cy="307.54" r="4.4" fill="url(#gk)"/><circle cx="347.08" cy="305.88" r="4.4" fill="url(#gk)"/><circle cx="351.82" cy="303.99" r="4.4" fill="url(#gk)"/><circle cx="356.29" cy="301.95" r="4.4" fill="url(#gk)"/><circle cx="360.52" cy="299.81" r="4.4" fill="url(#gk)"/><circle cx="364.53" cy="297.55" r="4.4" fill="url(#gk)"/><circle cx="368.35" cy="294.99" r="4.4" fill="url(#gk)"/><circle cx="371.99" cy="291.95" r="4.4" fill="url(#gk)"/><circle cx="375.46" cy="288.34" r="4.4" fill="url(#gk)"/><circle cx="378.79" cy="284.39" r="4.4" fill="url(#gk)"/><circle cx="381.98" cy="280.38" r="4.4" fill="url(#gk)"/><circle cx="385.05" cy="276.46" r="4.4" fill="url(#gk)"/><circle cx="388.00" cy="272.65" r="4.4" fill="url(#gk)"/><circle cx="390.85" cy="268.96" r="4.4" fill="url(#gk)"/><circle cx="393.59" cy="265.36" r="4.4" fill="url(#gk)"/><circle cx="396.25" cy="261.87" r="4.4" fill="url(#gk)"/><circle cx="398.81" cy="258.47" r="4.4" fill="url(#gk)"/><circle cx="401.29" cy="255.16" r="4.4" fill="url(#gk)"/><circle cx="403.70" cy="251.94" r="4.4" fill="url(#gk)"/><circle cx="406.03" cy="248.81" r="4.4" fill="url(#gk)"/><circle cx="408.30" cy="245.76" r="4.4" fill="url(#gk)"/><circle cx="410.51" cy="242.79" r="4.4" fill="url(#gk)"/><circle cx="412.65" cy="239.90" r="4.4" fill="url(#gk)"/><circle cx="414.73" cy="237.08" r="4.4" fill="url(#gk)"/><circle cx="416.77" cy="234.34" r="4.4" fill="url(#gk)"/><circle cx="418.75" cy="231.68" r="4.4" fill="url(#gk)"/><circle cx="420.68" cy="229.11" r="4.4" fill="url(#gk)"/><circle cx="422.56" cy="226.62" r="4.4" fill="url(#gk)"/><circle cx="424.40" cy="224.22" r="4.4" fill="url(#gk)"/><circle cx="426.20" cy="221.92" r="4.4" fill="url(#gk)"/><circle cx="427.96" cy="219.71" r="4.4" fill="url(#gk)"/><circle cx="429.68" cy="217.59" r="4.4" fill="url(#gk)"/><circle cx="431.36" cy="215.56" r="4.4" fill="url(#gk)"/><circle cx="433.01" cy="213.63" r="4.4" fill="url(#gk)"/><circle cx="434.62" cy="211.79" r="4.4" fill="url(#gk)"/><circle cx="436.20" cy="210.05" r="4.4" fill="url(#gk)"/><circle cx="437.75" cy="208.38" r="4.42" fill="url(#gk)"/><circle cx="439.27" cy="206.80" r="4.43" fill="url(#gk)"/><circle cx="440.76" cy="205.27" r="4.45" fill="url(#gk)"/><circle cx="442.22" cy="203.81" r="4.46" fill="url(#gk)"/><circle cx="443.65" cy="202.41" r="4.48" fill="url(#gk)"/><circle cx="445.06" cy="201.05" r="4.50" fill="url(#gk)"/><circle cx="446.45" cy="199.73" r="4.51" fill="url(#gk)"/><circle cx="447.81" cy="198.46" r="4.53" fill="url(#gk)"/><circle cx="449.15" cy="197.22" r="4.54" fill="url(#gk)"/><circle cx="450.46" cy="196.00" r="4.56" fill="url(#gk)"/><circle cx="451.75" cy="194.82" r="4.58" fill="url(#gk)"/><circle cx="453.03" cy="193.66" r="4.59" fill="url(#gk)"/><circle cx="454.28" cy="192.51" r="4.61" fill="url(#gk)"/><circle cx="455.51" cy="191.39" r="4.62" fill="url(#gk)"/><circle cx="456.72" cy="190.27" r="4.64" fill="url(#gk)"/><circle cx="457.92" cy="189.17" r="4.66" fill="url(#gk)"/><circle cx="459.09" cy="188.09" r="4.67" fill="url(#gk)"/><circle cx="460.25" cy="187.00" r="4.69" fill="url(#gk)"/><circle cx="461.39" cy="185.93" r="4.70" fill="url(#gk)"/><circle cx="462.52" cy="184.86" r="4.72" fill="url(#gk)"/><circle cx="463.63" cy="183.79" r="4.74" fill="url(#gk)"/><circle cx="464.72" cy="182.72" r="4.75" fill="url(#gk)"/><circle cx="465.80" cy="181.65" r="4.77" fill="url(#gk)"/><circle cx="466.86" cy="180.58" r="4.78" fill="url(#gk)"/><circle cx="467.91" cy="179.51" r="4.80" fill="url(#gk)"/><circle cx="468.95" cy="178.44" r="4.82" fill="url(#gk)"/><circle cx="469.97" cy="177.36" r="4.83" fill="url(#gk)"/><circle cx="470.98" cy="176.27" r="4.85" fill="url(#gk)"/><circle cx="471.98" cy="175.19" r="4.86" fill="url(#gk)"/><circle cx="472.96" cy="174.10" r="4.88" fill="url(#gk)"/><circle cx="473.93" cy="173.01" r="4.90" fill="url(#gk)"/><circle cx="474.89" cy="171.92" r="4.91" fill="url(#gk)"/><circle cx="475.84" cy="170.83" r="4.93" fill="url(#gk)"/><circle cx="476.78" cy="169.75" r="4.94" fill="url(#gk)"/><circle cx="477.70" cy="168.66" r="4.96" fill="url(#gk)"/><circle cx="478.62" cy="167.58" r="4.98" fill="url(#gk)"/><circle cx="479.52" cy="166.50" r="4.99" fill="url(#gk)"/><circle cx="480.42" cy="165.42" r="5.01" fill="url(#gk)"/><circle cx="481.30" cy="164.35" r="5.02" fill="url(#gk)"/><circle cx="482.17" cy="163.28" r="5.04" fill="url(#gk)"/><circle cx="483.04" cy="162.22" r="5.06" fill="url(#gk)"/><circle cx="483.89" cy="161.16" r="5.07" fill="url(#gk)"/><circle cx="484.74" cy="160.11" r="5.09" fill="url(#gk)"/><circle cx="485.58" cy="159.07" r="5.10" fill="url(#gk)"/><circle cx="486.40" cy="158.03" r="5.12" fill="url(#gk)"/><circle cx="487.22" cy="157.00" r="5.14" fill="url(#gk)"/><circle cx="488.03" cy="155.97" r="5.15" fill="url(#gk)"/><circle cx="488.84" cy="154.95" r="5.17" fill="url(#gk)"/><circle cx="489.63" cy="153.94" r="5.18" fill="url(#gk)"/><circle cx="490.42" cy="152.94" r="5.20" fill="url(#gk)"/><circle cx="491.19" cy="151.94" r="5.20" fill="url(#gk)"/><circle cx="491.96" cy="150.96" r="5.20" fill="url(#gk)"/><circle cx="492.73" cy="149.98" r="5.20" fill="url(#gk)"/><circle cx="493.48" cy="149.01" r="5.20" fill="url(#gk)"/><circle cx="494.23" cy="148.05" r="5.20" fill="url(#gk)"/><circle cx="494.97" cy="147.09" r="5.20" fill="url(#gk)"/><circle cx="495.71" cy="146.15" r="5.20" fill="url(#gk)"/><circle cx="496.44" cy="145.21" r="5.20" fill="url(#gk)"/><circle cx="497.16" cy="144.29" r="5.20" fill="url(#gk)"/><circle cx="497.87" cy="143.37" r="5.20" fill="url(#gk)"/><circle cx="498.58" cy="142.46" r="5.20" fill="url(#gk)"/><circle cx="499.28" cy="141.56" r="5.20" fill="url(#gk)"/><circle cx="499.97" cy="140.67" r="5.20" fill="url(#gk)"/><circle cx="500.66" cy="139.79" r="5.20" fill="url(#gk)"/><circle cx="501.35" cy="138.92" r="5.20" fill="url(#gk)"/><circle cx="502.02" cy="138.06" r="5.20" fill="url(#gk)"/><circle cx="502.70" cy="137.20" r="5.20" fill="url(#gk)"/><circle cx="503.36" cy="136.36" r="5.20" fill="url(#gk)"/><circle cx="504.02" cy="135.52" r="5.20" fill="url(#gk)"/><circle cx="504.68" cy="134.69" r="5.20" fill="url(#gk)"/><circle cx="505.33" cy="133.86" r="5.20" fill="url(#gk)"/><circle cx="505.97" cy="133.05" r="5.20" fill="url(#gk)"/><circle cx="506.61" cy="132.23" r="5.20" fill="url(#gk)"/><circle cx="507.24" cy="131.43" r="5.20" fill="url(#gk)"/><circle cx="507.87" cy="130.63" r="5.20" fill="url(#gk)"/><circle cx="508.49" cy="129.83" r="5.20" fill="url(#gk)"/><circle cx="509.11" cy="129.04" r="5.20" fill="url(#gk)"/><circle cx="509.72" cy="128.26" r="5.20" fill="url(#gk)"/><circle cx="510.33" cy="127.47" r="5.20" fill="url(#gk)"/><circle cx="510.94" cy="126.69" r="5.20" fill="url(#gk)"/><circle cx="511.54" cy="125.92" r="5.20" fill="url(#gk)"/><circle cx="512.13" cy="125.15" r="5.20" fill="url(#gk)"/><circle cx="512.72" cy="124.38" r="5.20" fill="url(#gk)"/><circle cx="513.31" cy="123.61" r="5.20" fill="url(#gk)"/><circle cx="513.89" cy="122.85" r="5.20" fill="url(#gk)"/><circle cx="514.47" cy="122.09" r="5.20" fill="url(#gk)"/><circle cx="515.04" cy="121.33" r="5.20" fill="url(#gk)"/><circle cx="515.61" cy="120.58" r="5.20" fill="url(#gk)"/><circle cx="516.17" cy="119.82" r="5.20" fill="url(#gk)"/><circle cx="516.73" cy="119.07" r="5.20" fill="url(#gk)"/><circle cx="517.29" cy="118.32" r="5.20" fill="url(#gk)"/><circle cx="517.84" cy="117.57" r="5.20" fill="url(#gk)"/><circle cx="518.39" cy="116.82" r="5.20" fill="url(#gk)"/><circle cx="518.94" cy="116.08" r="5.20" fill="url(#gk)"/><circle cx="519.48" cy="115.33" r="5.20" fill="url(#gk)"/><circle cx="520.02" cy="114.58" r="5.20" fill="url(#gk)"/><circle cx="520.55" cy="113.84" r="5.20" fill="url(#gk)"/><circle cx="521.08" cy="113.09" r="5.20" fill="url(#gk)"/><circle cx="521.61" cy="112.35" r="5.20" fill="url(#gk)"/><circle cx="522.13" cy="111.61" r="5.20" fill="url(#gk)"/><circle cx="522.65" cy="110.86" r="5.20" fill="url(#gk)"/><circle cx="523.17" cy="110.12" r="5.20" fill="url(#gk)"/><circle cx="523.68" cy="109.38" r="5.20" fill="url(#gk)"/><circle cx="524.19" cy="108.63" r="5.20" fill="url(#gk)"/><circle cx="524.69" cy="107.89" r="5.20" fill="url(#gk)"/><circle cx="525.20" cy="107.14" r="5.20" fill="url(#gk)"/><circle cx="525.70" cy="106.40" r="5.20" fill="url(#gk)"/><circle cx="526.19" cy="105.65" r="5.20" fill="url(#gk)"/><circle cx="526.69" cy="104.91" r="5.20" fill="url(#gk)"/><circle cx="527.18" cy="104.16" r="5.20" fill="url(#gk)"/><circle cx="527.66" cy="103.41" r="5.20" fill="url(#gk)"/><circle cx="528.15" cy="102.67" r="5.20" fill="url(#gk)"/><circle cx="528.63" cy="101.92" r="5.20" fill="url(#gk)"/><circle cx="529.11" cy="101.17" r="5.20" fill="url(#gk)"/><circle cx="529.58" cy="100.41" r="5.20" fill="url(#gk)"/><circle cx="530.06" cy="99.66" r="5.20" fill="url(#gk)"/><circle cx="530.53" cy="98.91" r="5.20" fill="url(#gk)"/><circle cx="530.99" cy="98.15" r="5.20" fill="url(#gk)"/><circle cx="531.46" cy="97.40" r="5.20" fill="url(#gk)"/><circle cx="531.92" cy="96.64" r="5.20" fill="url(#gk)"/><circle cx="532.38" cy="95.88" r="5.20" fill="url(#gk)"/><circle cx="532.83" cy="95.12" r="5.20" fill="url(#gk)"/><circle cx="533.29" cy="94.36" r="5.20" fill="url(#gk)"/><circle cx="533.74" cy="93.60" r="5.20" fill="url(#gk)"/><circle cx="534.19" cy="92.83" r="5.20" fill="url(#gk)"/><circle cx="534.63" cy="92.07" r="5.20" fill="url(#gk)"/><circle cx="535.08" cy="91.30" r="5.20" fill="url(#gk)"/><circle cx="535.52" cy="90.53" r="5.20" fill="url(#gk)"/><circle cx="535.95" cy="89.76" r="5.20" fill="url(#gk)"/><circle cx="536.39" cy="88.99" r="5.20" fill="url(#gk)"/><circle cx="536.82" cy="88.21" r="5.20" fill="url(#gk)"/><circle cx="537.25" cy="87.44" r="5.20" fill="url(#gk)"/><circle cx="537.68" cy="86.66" r="5.20" fill="url(#gk)"/><circle cx="538.11" cy="85.88" r="5.20" fill="url(#gk)"/><circle cx="538.53" cy="85.10" r="5.20" fill="url(#gk)"/><circle cx="538.95" cy="84.31" r="5.20" fill="url(#gk)"/><circle cx="539.37" cy="83.53" r="5.20" fill="url(#gk)"/><circle cx="539.79" cy="82.74" r="5.20" fill="url(#gk)"/><circle cx="540.21" cy="82.12" r="5.20" fill="url(#gk)"/><circle cx="540.62" cy="81.50" r="5.20" fill="url(#gk)"/><circle cx="541.03" cy="82.25" r="5.20" fill="url(#gk)"/><circle cx="541.44" cy="83.00" r="5.20" fill="url(#gk)"/><circle cx="541.84" cy="84.00" r="5.20" fill="url(#gk)"/><circle cx="542.25" cy="85.00" r="5.20" fill="url(#gk)"/><circle cx="542.65" cy="86.25" r="5.20" fill="url(#gk)"/><circle cx="543.05" cy="87.50" r="5.20" fill="url(#gk)"/><circle cx="543.45" cy="89.00" r="5.20" fill="url(#gk)"/><circle cx="543.84" cy="91.50" r="5.20" fill="url(#gk)"/><circle cx="544.24" cy="95.00" r="5.20" fill="url(#gk)"/><circle cx="544.63" cy="106.50" r="5.20" fill="url(#gk)"/>


<g stroke-width="1.5" fill="none">
<line x1="122.4" y1="319.9" x2="376.8" y2="314.6" stroke="#000"/>
<line x1="353.9" y1="328.3" x2="468.6" y2="156.5" stroke="#000"/>
<line x1="122.0" y1="321.4" x2="348.6" y2="303.8" stroke="#ff8000"/>
<line x1="316.2" y1="331.6" x2="349.5" y2="280.5" stroke="#ff8000"/>
<line x1="116.9" y1="318.0" x2="326.0" y2="303.2" stroke="#f00"/>
<line x1="297.3" y1="324.6" x2="332.0" y2="274.0" stroke="#f00"/>
</g>

</g>
<g stroke="#000" stroke-width="1.8"><line x1="69.00" y1="387.90" x2="76.00" y2="387.90"/><line x1="72.40" y1="359.44" x2="76.00" y2="359.44"/><line x1="72.40" y1="342.79" x2="76.00" y2="342.79"/><line x1="72.40" y1="330.98" x2="76.00" y2="330.98"/><line x1="72.40" y1="321.81" x2="76.00" y2="321.81"/><line x1="72.40" y1="314.33" x2="76.00" y2="314.33"/><line x1="72.40" y1="308.00" x2="76.00" y2="308.00"/><line x1="72.40" y1="302.51" x2="76.00" y2="302.51"/><line x1="72.40" y1="297.68" x2="76.00" y2="297.68"/><line x1="69.00" y1="293.35" x2="76.00" y2="293.35"/><line x1="72.40" y1="264.89" x2="76.00" y2="264.89"/><line x1="72.40" y1="248.24" x2="76.00" y2="248.24"/><line x1="72.40" y1="236.43" x2="76.00" y2="236.43"/><line x1="72.40" y1="227.26" x2="76.00" y2="227.26"/><line x1="72.40" y1="219.78" x2="76.00" y2="219.78"/><line x1="72.40" y1="213.45" x2="76.00" y2="213.45"/><line x1="72.40" y1="207.96" x2="76.00" y2="207.96"/><line x1="72.40" y1="203.13" x2="76.00" y2="203.13"/><line x1="69.00" y1="198.80" x2="76.00" y2="198.80"/><line x1="72.40" y1="170.34" x2="76.00" y2="170.34"/><line x1="72.40" y1="153.69" x2="76.00" y2="153.69"/><line x1="72.40" y1="141.88" x2="76.00" y2="141.88"/><line x1="72.40" y1="132.71" x2="76.00" y2="132.71"/><line x1="72.40" y1="125.23" x2="76.00" y2="125.23"/><line x1="72.40" y1="118.90" x2="76.00" y2="118.90"/><line x1="72.40" y1="113.41" x2="76.00" y2="113.41"/><line x1="72.40" y1="108.58" x2="76.00" y2="108.58"/><line x1="69.00" y1="104.25" x2="76.00" y2="104.25"/><line x1="72.40" y1="75.79" x2="76.00" y2="75.79"/><line x1="72.40" y1="59.14" x2="76.00" y2="59.14"/><line x1="72.40" y1="47.33" x2="76.00" y2="47.33"/><line x1="72.40" y1="38.16" x2="76.00" y2="38.16"/><line x1="72.40" y1="30.68" x2="76.00" y2="30.68"/><line x1="72.40" y1="24.35" x2="76.00" y2="24.35"/><line x1="72.40" y1="18.86" x2="76.00" y2="18.86"/><line x1="72.40" y1="14.03" x2="76.00" y2="14.03"/><line x1="69.00" y1="9.70" x2="76.00" y2="9.70"/><line x1="76.00" y1="387.80" x2="76.00" y2="394.60"/><line x1="130.22" y1="387.80" x2="130.22" y2="391.00"/><line x1="161.93" y1="387.80" x2="161.93" y2="391.00"/><line x1="184.43" y1="387.80" x2="184.43" y2="391.00"/><line x1="201.88" y1="387.80" x2="201.88" y2="391.00"/><line x1="216.15" y1="387.80" x2="216.15" y2="391.00"/><line x1="228.20" y1="387.80" x2="228.20" y2="391.00"/><line x1="238.65" y1="387.80" x2="238.65" y2="391.00"/><line x1="247.86" y1="387.80" x2="247.86" y2="391.00"/><line x1="256.10" y1="387.80" x2="256.10" y2="394.60"/><line x1="310.32" y1="387.80" x2="310.32" y2="391.00"/><line x1="342.03" y1="387.80" x2="342.03" y2="391.00"/><line x1="364.53" y1="387.80" x2="364.53" y2="391.00"/><line x1="381.98" y1="387.80" x2="381.98" y2="391.00"/><line x1="396.25" y1="387.80" x2="396.25" y2="391.00"/><line x1="408.30" y1="387.80" x2="408.30" y2="391.00"/><line x1="418.75" y1="387.80" x2="418.75" y2="391.00"/><line x1="427.96" y1="387.80" x2="427.96" y2="391.00"/><line x1="436.20" y1="387.80" x2="436.20" y2="394.60"/><line x1="490.42" y1="387.80" x2="490.42" y2="391.00"/><line x1="522.13" y1="387.80" x2="522.13" y2="391.00"/><line x1="544.63" y1="387.80" x2="544.63" y2="391.00"/></g>
<path d="M76.0,9.7 H545.0 V387.8 H76.0 Z" fill="none" stroke="#000" stroke-width="1.4"/>
<path d="M76.0,8.899999999999999 V388.6 M75.2,387.8 H545.8" fill="none" stroke="#000" stroke-width="1.9"/>
<g font-size="16" fill="#000"><text x="62.8" y="398.10" text-anchor="end"><tspan>10</tspan><tspan font-size="11" dy="-5.4">&#8722;6</tspan></text><text x="62.8" y="303.55" text-anchor="end"><tspan>10</tspan><tspan font-size="11" dy="-5.4">&#8722;5</tspan></text><text x="62.8" y="209.00" text-anchor="end"><tspan>10</tspan><tspan font-size="11" dy="-5.4">&#8722;4</tspan></text><text x="62.8" y="114.45" text-anchor="end"><tspan>10</tspan><tspan font-size="11" dy="-5.4">&#8722;3</tspan></text><text x="62.8" y="19.90" text-anchor="end"><tspan>10</tspan><tspan font-size="11" dy="-5.4">&#8722;2</tspan></text><text x="76.00" y="412.8" text-anchor="middle">0.01</text>
<text x="256.10" y="412.8" text-anchor="middle">0.1</text>
<text x="436.20" y="412.8" text-anchor="middle">1</text></g>
<text x="310.5" y="442.6" font-size="20" text-anchor="middle">Voltage (V)</text>
<text transform="translate(20.7,199.0) rotate(-90)" font-size="20" text-anchor="middle">Current (A)</text>

<g stroke-width="1.6">
<line x1="98" y1="37.7" x2="143.5" y2="37.7" stroke="#000"/>
<line x1="98" y1="61.7" x2="143.5" y2="61.7" stroke="#ff8000"/>
<line x1="98" y1="85.8" x2="143.5" y2="85.8" stroke="#f00"/>
</g>
<circle cx="120.6" cy="37.7" r="4.65" fill="url(#gk)"/><circle cx="120.6" cy="61.7" r="4.65" fill="url(#go)"/><circle cx="120.6" cy="85.8" r="4.65" fill="url(#gr)"/>
<g font-size="20.1" fill="#000">
<text x="147" y="44.4">Control</text>
<text x="147" y="68.4">PEACl/IPA</text>
<text x="147" y="92.5">PEACl/DMSO+IPA</text>
</g>

<g font-size="16.4"><text x="139" y="193.4" fill="#f00">V<tspan font-size="10.8" dy="5.6">TFL</tspan><tspan dy="-5.6">= 0.19 V</tspan></text><text x="139" y="223.3" fill="#f00">Nt= 1.68&#215;10<tspan font-size="10.5" dx="0.8" dy="-6.2">15</tspan><tspan dy="6.2"> cm</tspan><tspan font-size="10.5" dx="0.4" dy="-6.2">&#8722;3</tspan></text><text x="139" y="251.6" fill="#ff8000">V<tspan font-size="10.8" dy="5.6">TFL</tspan><tspan dy="-5.6">= 0.27 V</tspan></text><text x="139" y="281.8" fill="#ff8000">Nt= 2.39&#215;10<tspan font-size="10.5" dx="0.8" dy="-6.2">15</tspan><tspan dy="6.2"> cm</tspan><tspan font-size="10.5" dx="0.4" dy="-6.2">&#8722;3</tspan></text><text x="393" y="309.6" fill="#000">V<tspan font-size="10.8" dy="5.6">TFL</tspan><tspan dy="-5.6">= 0.39 V</tspan></text><text x="393" y="339.8" fill="#000">Nt= 3.46&#215;10<tspan font-size="10.5" dx="0.8" dy="-6.2">15</tspan><tspan dy="6.2"> cm</tspan><tspan font-size="10.5" dx="0.4" dy="-6.2">-3</tspan></text></g>
</svg>
</body></html>
